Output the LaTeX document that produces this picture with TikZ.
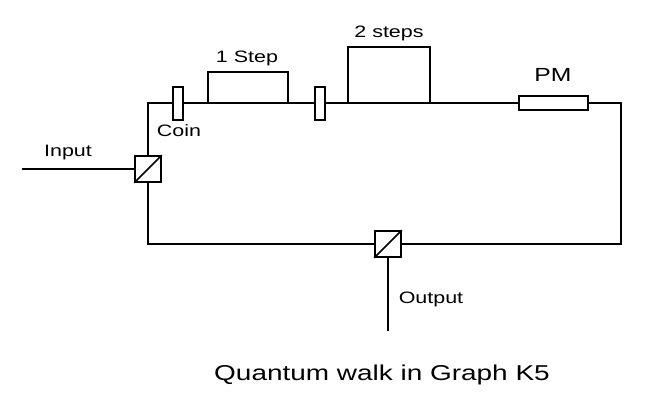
\documentclass[tikz,border=0pt]{standalone}
\usepackage{fontspec}
\setmainfont[FakeStretch=1.3]{Liberation Sans}
\begin{document}
\begin{tikzpicture}[x=1pt,y=-1pt,line width=1.6pt,
  lbl/.style={font=\fontsize{16.5}{18}\selectfont,inner sep=0pt},
  bs/.style={draw,fill=white,minimum size=26pt,inner sep=0pt},
  plate/.style={draw,fill=white,minimum width=10pt,minimum height=33pt,inner sep=0pt},
  box/.style={draw,fill=white,inner sep=0pt}]
\useasboundingbox (0,0) rectangle (661,414);
\coordinate (tl) at (148,103); \coordinate (tr) at (621,103);
\coordinate (bl) at (148,244); \coordinate (br) at (621,244);
\coordinate (in) at (22,169); \coordinate (out) at (388,331);
\draw (tl) -- (tr) -- (br) -- (bl) -- cycle;
\draw (in) -- (148,169);
\draw (388,244) -- (out);
\node[bs] (bs1) at (148,169) {};
\draw (bs1.south west) -- (bs1.north east);
\node[bs] (bs2) at (388,244) {};
\draw (bs2.south west) -- (bs2.north east);
\node[plate] (p1) at (178,103.5) {};
\node[plate] (p2) at (320,103.5) {};
\node[box,minimum width=80pt,minimum height=31pt] (s1) at (248,87.5) {};
\node[box,minimum width=82pt,minimum height=56pt] (s2) at (389,75) {};
\node[box,minimum width=69pt,minimum height=14pt] (pm) at (553.5,103) {};
\node[lbl] (tin) at (68,153) {Input};
\node[lbl] (tcoin) at (179,131) {Coin};
\node[lbl] (t1) at (247,58) {1 Step};
\node[lbl] (t2) at (389,33) {2 steps};
\node[lbl,font=\fontsize{19}{21}\selectfont] (tpm) at (553,75) {PM};
\node[lbl,font=\fontsize{21.5}{24}\selectfont] (title) at (382,375) {Quantum walk in Graph K5};
\node[lbl] (tout) at (431,299) {Output};
\end{tikzpicture}
\end{document}
